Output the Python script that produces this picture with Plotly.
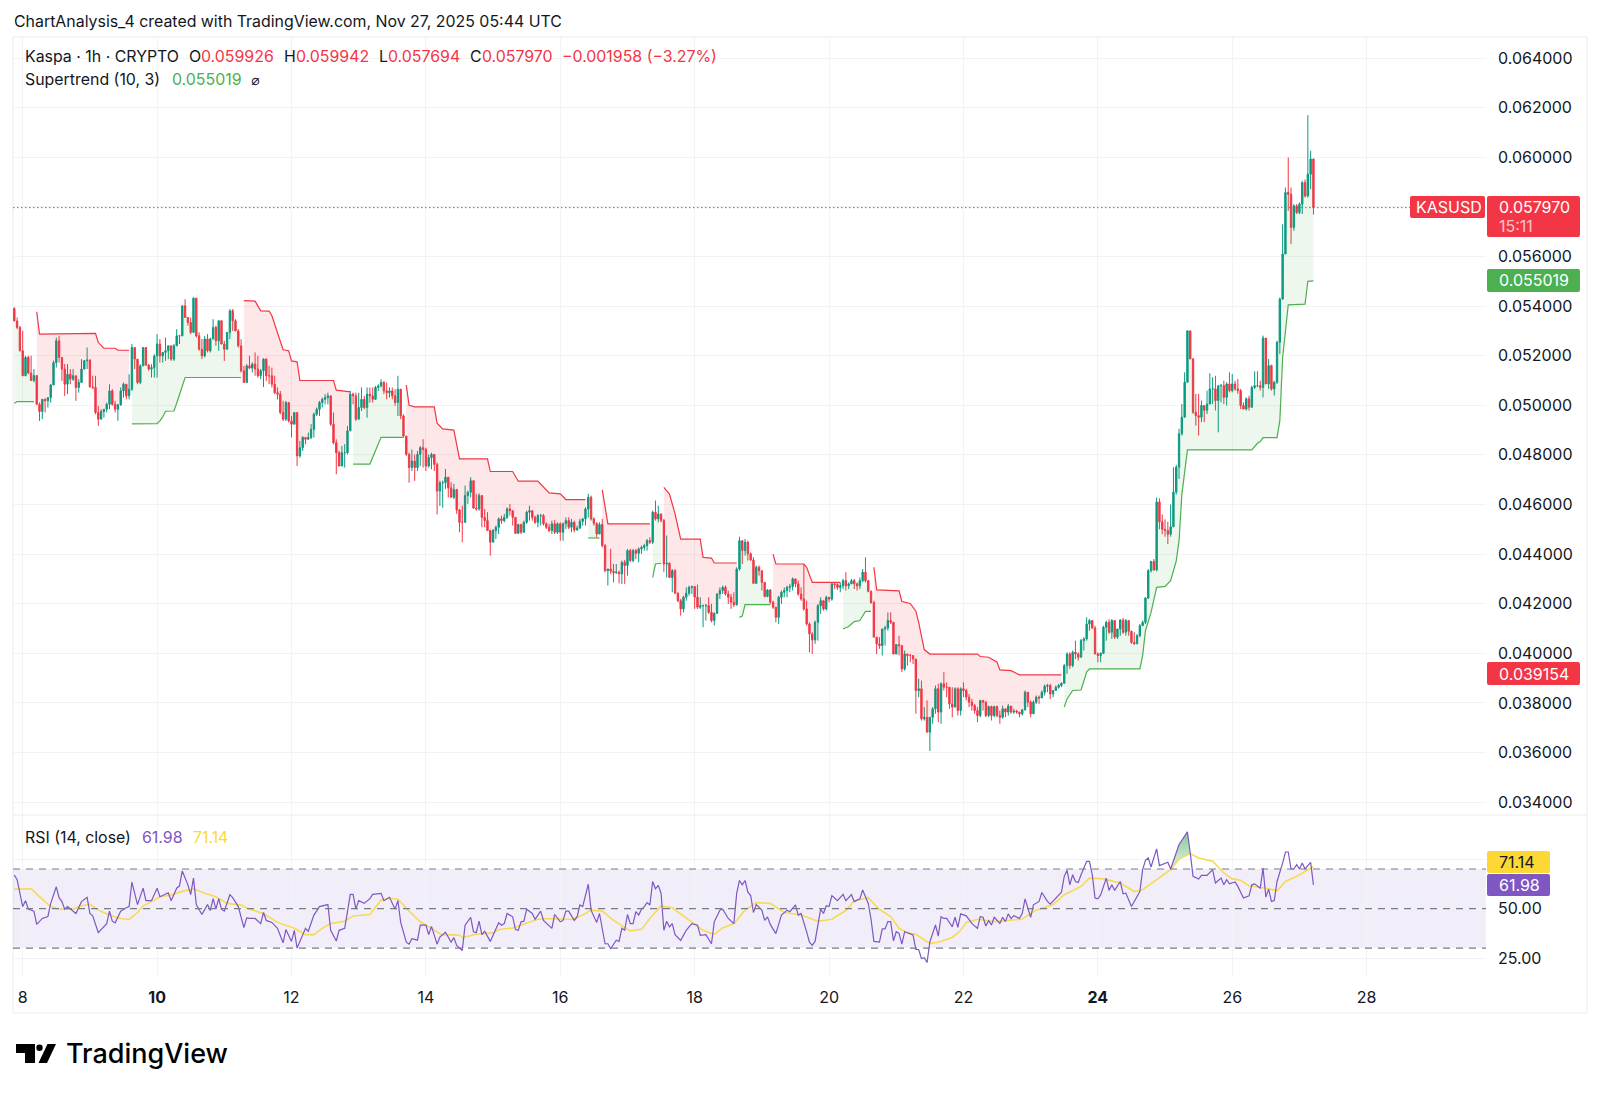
import pandas as pd
import plotly.graph_objects as go

# hourly candles, prices in units of 0.00001 USD, one row per day
closes = [
    5340, 5314, 5220,
    5119, 5193, 5130, 5100, 5120, 5004, 4975, 5024, 5018, 5031, 5082, 5172, 5260, 5193, 5146, 5085, 5125, 5105, 5119, 5072, 5092, 5146, 5180, 5182,
    5074, 5072, 4971, 4944, 4975, 4984, 5004, 5058, 5004, 4984, 5002, 5058, 5085, 5038, 5065, 5233, 5186, 5092, 5159, 5233, 5162, 5146, 5152, 5199,
    5247, 5199, 5213, 5220, 5240, 5186, 5240, 5280, 5280, 5401, 5354, 5334, 5294, 5432, 5280, 5226, 5199, 5267, 5220, 5267, 5314, 5260, 5341, 5247,
    5226, 5294, 5381, 5341, 5300, 5240, 5139, 5092, 5159, 5150, 5166, 5146, 5119, 5139, 5186, 5119, 5119, 5085, 5051, 5045, 4971, 4944, 5011, 4937,
    4924, 4971, 4796, 4829, 4870, 4863, 4870, 4903, 4964, 4984, 5011, 5024, 5031, 5038, 4924, 4849, 4809, 4755, 4809, 4809, 4897, 5045, 5038, 4944,
    4991, 5024, 4991, 5045, 5038, 5024, 5072, 5078, 5092, 5058, 5051, 5058, 5038, 5011, 5065, 4957, 4876, 4802, 4749, 4775, 4749, 4802, 4829, 4822,
    4755, 4789, 4802, 4762, 4654, 4688, 4688, 4710, 4667, 4629, 4660, 4578, 4528, 4528, 4636, 4649, 4696, 4586, 4582, 4636, 4548, 4535, 4495, 4448,
    4495, 4508, 4542, 4535, 4548, 4582, 4575, 4548, 4484, 4519, 4488, 4528, 4569, 4575, 4548, 4528, 4555, 4555, 4522, 4508, 4495, 4522, 4488, 4522,
    4488, 4522, 4535, 4508, 4528, 4497, 4505, 4532, 4542, 4582, 4629, 4542, 4524, 4481, 4519, 4434, 4333, 4340, 4331, 4325, 4327, 4320, 4367, 4354,
    4414, 4374, 4414, 4403, 4421, 4427, 4434, 4454, 4448, 4569, 4542, 4562, 4535, 4360, 4363, 4306, 4333, 4242, 4212, 4179, 4226, 4242, 4266, 4269,
    4226, 4186, 4192, 4192, 4192, 4165, 4132, 4161, 4239, 4253, 4266, 4239, 4226, 4206, 4196, 4340, 4454, 4414, 4448, 4401, 4376, 4282, 4347, 4333,
    4286, 4229, 4255, 4206, 4186, 4145, 4226, 4246, 4253, 4266, 4269, 4300, 4280, 4239, 4219, 4179, 4118, 4078, 4054, 4125, 4192, 4212, 4179, 4226,
    4219, 4280, 4277, 4266, 4272, 4293, 4272, 4280, 4293, 4280, 4272, 4293, 4327, 4293, 4250, 4205, 4065, 4038, 4031, 4098, 4102, 4132, 4125, 3997,
    4035, 4031, 3937, 3997, 3991, 3991, 3977, 3850, 3857, 3736, 3742, 3682, 3742, 3776, 3857, 3763, 3877, 3863, 3863, 3796, 3783, 3857, 3769, 3857,
    3850, 3823, 3803, 3789, 3769, 3749, 3810, 3803, 3749, 3785, 3749, 3785, 3749, 3742, 3776, 3763, 3787, 3763, 3767, 3763, 3756, 3772, 3843, 3803,
    3756, 3803, 3823, 3820, 3843, 3867, 3870, 3836, 3850, 3863, 3870, 3879, 3950, 3997, 3950, 4004, 3997, 3984, 4051, 4058, 4118, 4132, 4102, 3997,
    3991, 4000, 4105, 4125, 4085, 4132, 4065, 4098, 4134, 4085, 4132, 4089, 4044, 4038, 4071, 4111, 4125, 4223, 4333, 4370, 4336, 4610, 4530, 4500,
    4495, 4480, 4510, 4650, 4750, 4885, 4952, 5093, 5300, 5187, 4972, 4958, 4952, 4999, 4980, 5005, 5066, 5066, 5019, 5079, 5079, 5032, 5086, 5059,
    5086, 5066, 5059, 4999, 4985, 5026, 4992, 5072, 5079, 5079, 5072, 5271, 5086, 5160, 5066, 5093, 5254, 5428, 5610, 5858, 5851, 5717, 5804, 5777,
    5811, 5898, 5844, 5932, 5993, 5797,
]
highs = [
    5395, 5354, 5320,
    5300, 5200, 5200, 5200, 5146, 5105, 5011, 5024, 5028, 5031, 5085, 5180, 5273, 5280, 5193, 5166, 5166, 5146, 5146, 5112, 5105, 5186, 5180, 5233,
    5186, 5119, 5119, 4998, 4984, 4984, 5011, 5085, 5065, 5018, 5004, 5072, 5092, 5085, 5125, 5247, 5233, 5186, 5166, 5233, 5233, 5166, 5166, 5206,
    5287, 5267, 5213, 5273, 5240, 5240, 5247, 5307, 5280, 5401, 5428, 5354, 5354, 5435, 5432, 5294, 5267, 5280, 5287, 5273, 5347, 5321, 5341, 5341,
    5260, 5294, 5388, 5388, 5347, 5307, 5267, 5159, 5166, 5200, 5173, 5213, 5200, 5146, 5190, 5190, 5159, 5152, 5119, 5072, 5058, 5018, 5018, 5011,
    4957, 4971, 4971, 4856, 4876, 4870, 4890, 4924, 4971, 4991, 5018, 5031, 5045, 5051, 5038, 4971, 4863, 4816, 4836, 4843, 4917, 5058, 5051, 5051,
    5051, 5072, 5038, 5072, 5072, 5072, 5078, 5085, 5105, 5098, 5092, 5072, 5072, 5065, 5119, 5065, 4964, 4876, 4809, 4822, 4802, 4816, 4836, 4863,
    4829, 4802, 4809, 4796, 4769, 4696, 4696, 4743, 4710, 4690, 4683, 4663, 4582, 4595, 4676, 4656, 4710, 4696, 4643, 4645, 4636, 4582, 4569, 4495,
    4501, 4515, 4548, 4555, 4562, 4589, 4602, 4575, 4548, 4522, 4522, 4535, 4575, 4595, 4569, 4555, 4562, 4562, 4562, 4528, 4522, 4535, 4538, 4528,
    4528, 4528, 4548, 4548, 4542, 4535, 4515, 4542, 4546, 4589, 4643, 4636, 4548, 4528, 4528, 4542, 4441, 4340, 4421, 4360, 4360, 4333, 4374, 4376,
    4421, 4421, 4421, 4421, 4427, 4434, 4441, 4461, 4468, 4575, 4616, 4595, 4562, 4542, 4475, 4367, 4340, 4340, 4246, 4219, 4232, 4266, 4273, 4273,
    4269, 4277, 4226, 4196, 4199, 4226, 4199, 4165, 4242, 4266, 4273, 4273, 4253, 4239, 4246, 4347, 4470, 4448, 4461, 4454, 4407, 4387, 4354, 4354,
    4327, 4286, 4259, 4259, 4212, 4186, 4232, 4253, 4266, 4273, 4280, 4306, 4300, 4293, 4266, 4360, 4212, 4125, 4085, 4132, 4199, 4226, 4212, 4232,
    4226, 4286, 4286, 4282, 4286, 4300, 4327, 4286, 4300, 4300, 4286, 4306, 4340, 4387, 4293, 4253, 4212, 4065, 4065, 4098, 4111, 4165, 4165, 4111,
    4038, 4071, 4018, 4011, 3997, 3997, 3991, 3977, 3897, 3890, 3783, 3810, 3742, 3783, 3870, 3877, 3883, 3924, 3883, 3863, 3863, 3863, 3863, 3863,
    3883, 3857, 3836, 3816, 3796, 3783, 3812, 3810, 3807, 3789, 3789, 3789, 3789, 3769, 3789, 3776, 3796, 3783, 3776, 3772, 3762, 3776, 3850, 3843,
    3810, 3810, 3830, 3830, 3850, 3874, 3877, 3877, 3850, 3870, 3877, 3883, 3957, 4004, 4004, 4011, 4051, 4004, 4058, 4065, 4145, 4138, 4125, 4111,
    4004, 4004, 4111, 4132, 4138, 4138, 4105, 4098, 4138, 4142, 4138, 4098, 4091, 4085, 4078, 4118, 4132, 4226, 4340, 4373, 4380, 4628, 4625, 4560,
    4540, 4530, 4600, 4750, 4760, 4905, 5005, 5133, 5303, 5300, 5190, 5046, 5046, 5019, 4985, 5059, 5129, 5113, 5119, 5079, 5086, 5099, 5093, 5133,
    5126, 5099, 5106, 5066, 5012, 5032, 5039, 5079, 5137, 5137, 5099, 5281, 5267, 5187, 5164, 5099, 5260, 5435, 5730, 5878, 5999, 5878, 5811, 5811,
    5818, 5905, 5911, 6170, 6026, 5994,
]
lows = [
    5340, 5307, 5217,
    5119, 5119, 5125, 5098, 5092, 5004, 4937, 4944, 4971, 4991, 5011, 5112, 5152, 5172, 5098, 5038, 5045, 5085, 5098, 5018, 5051, 5098, 5146, 5146,
    5072, 5065, 4964, 4917, 4944, 4950, 4971, 4984, 4998, 4971, 4937, 4998, 5031, 5024, 5024, 5058, 5146, 5085, 5085, 5159, 5159, 5139, 5112, 5112,
    5112, 5172, 5172, 5179, 5186, 5179, 5179, 5247, 5247, 5280, 5361, 5321, 5287, 5294, 5273, 5220, 5186, 5193, 5213, 5213, 5273, 5240, 5220, 5247,
    5179, 5226, 5267, 5300, 5300, 5233, 5132, 5092, 5092, 5146, 5132, 5119, 5112, 5105, 5074, 5098, 5085, 5072, 5045, 5024, 4964, 4937, 4937, 4930,
    4870, 4924, 4755, 4789, 4816, 4843, 4863, 4863, 4870, 4957, 4957, 4991, 5004, 5004, 4917, 4843, 4722, 4755, 4755, 4749, 4802, 4897, 5004, 4937,
    4944, 4977, 4984, 4950, 5011, 5011, 5038, 5058, 5072, 5045, 5024, 5031, 5024, 4998, 4957, 4944, 4870, 4796, 4688, 4735, 4695, 4735, 4755, 4749,
    4735, 4749, 4742, 4735, 4560, 4594, 4587, 4663, 4629, 4629, 4622, 4562, 4488, 4448, 4528, 4602, 4629, 4582, 4575, 4575, 4508, 4508, 4495, 4394,
    4448, 4461, 4481, 4522, 4528, 4542, 4555, 4515, 4481, 4481, 4481, 4508, 4522, 4535, 4535, 4522, 4508, 4515, 4515, 4501, 4488, 4481, 4481, 4481,
    4454, 4454, 4501, 4501, 4488, 4488, 4495, 4501, 4515, 4515, 4548, 4535, 4515, 4468, 4481, 4427, 4327, 4273, 4320, 4286, 4320, 4282, 4280, 4280,
    4313, 4367, 4367, 4380, 4367, 4401, 4414, 4414, 4441, 4441, 4535, 4528, 4528, 4327, 4306, 4306, 4246, 4239, 4206, 4152, 4165, 4212, 4232, 4239,
    4179, 4179, 4179, 4105, 4132, 4159, 4125, 4112, 4159, 4219, 4239, 4232, 4199, 4179, 4186, 4192, 4333, 4360, 4394, 4374, 4374, 4280, 4280, 4313,
    4253, 4226, 4226, 4199, 4179, 4125, 4118, 4199, 4226, 4226, 4246, 4253, 4266, 4232, 4212, 4172, 4112, 4004, 3998, 4038, 4051, 4159, 4172, 4172,
    4206, 4212, 4259, 4256, 4246, 4259, 4253, 4259, 4280, 4259, 4253, 4259, 4286, 4286, 4246, 4199, 4065, 3997, 4018, 3991, 4031, 4091, 4118, 3997,
    3997, 3991, 3924, 3930, 3950, 3964, 3957, 3756, 3823, 3729, 3729, 3682, 3606, 3716, 3756, 3722, 3716, 3850, 3823, 3776, 3742, 3783, 3749, 3749,
    3823, 3810, 3783, 3769, 3756, 3722, 3742, 3769, 3742, 3742, 3729, 3742, 3742, 3716, 3736, 3742, 3749, 3756, 3756, 3756, 3742, 3749, 3769, 3783,
    3742, 3756, 3796, 3796, 3823, 3830, 3843, 3816, 3823, 3850, 3857, 3863, 3883, 3917, 3937, 3944, 3977, 3971, 3991, 4011, 4051, 4091, 4098, 3997,
    3964, 3964, 3997, 4051, 4078, 4058, 4058, 4058, 4071, 4078, 4071, 4071, 4038, 4035, 4038, 4065, 4111, 4118, 4219, 4326, 4333, 4330, 4500, 4480,
    4470, 4440, 4470, 4590, 4640, 4703, 4878, 4952, 5093, 5187, 4965, 4918, 4878, 4932, 4932, 4965, 5005, 5005, 4979, 4891, 5012, 5005, 4999, 5052,
    5052, 5059, 5046, 4985, 4985, 4979, 4979, 5012, 5066, 5073, 5059, 5032, 5086, 5066, 5059, 5039, 5086, 5207, 5435, 5610, 5784, 5650, 5704, 5771,
    5771, 5771, 5838, 5838, 5871, 5769,
]
first_open = 5390

# supertrend (10, 3): one (candle numbers, values) pair for each stretch of the line
st_up = [
    ([0, 1, 7], [5007, 5015, 5015]),
    ([42, 51, 52, 53, 54, 57, 58, 59, 61, 81], [4925, 4926, 4937, 4953, 4976, 4977, 5008, 5045, 5112, 5112]),
    ([121, 127, 131, 139], [4763, 4763, 4871, 4871]),
    ([205, 209], [4465, 4465]),
    ([228, 229, 231], [4306, 4360, 4363]),
    ([259, 260, 261, 270], [4145, 4150, 4196, 4196]),
    ([296, 298, 300, 302, 304, 306], [4098, 4108, 4128, 4132, 4169, 4169]),
    ([375, 376, 378, 381, 383, 384, 402, 403, 404, 406, 408, 411, 413, 415, 416, 417, 419, 442, 444, 445, 446, 451, 452, 453, 455, 461, 462, 464],
     [3783, 3816, 3850, 3852, 3924, 3937, 3937, 3991, 4091, 4165, 4266, 4270, 4293, 4373, 4454, 4640, 4820, 4820, 4847, 4854, 4870, 4870, 4938, 5193, 5405, 5408, 5500, 5502]),
]
st_down = [
    ([8, 9, 29, 30, 32, 36, 37, 41], [5377, 5287, 5290, 5253, 5230, 5230, 5222, 5222]),
    ([82, 86, 88, 91, 92, 96, 98, 99, 101, 102, 114, 115, 120],
     [5422, 5420, 5381, 5380, 5361, 5224, 5220, 5179, 5175, 5100, 5100, 5061, 5054]),
    ([140, 141, 143, 150, 151, 153, 157, 159, 169, 170, 178, 180, 187, 191, 195, 197, 204],
     [5081, 5000, 4994, 4994, 4928, 4905, 4900, 4784, 4784, 4733, 4733, 4694, 4694, 4647, 4643, 4620, 4620]),
    ([210, 212, 227], [4659, 4522, 4522]),
    ([232, 234, 236, 238, 245, 246, 249, 250, 258], [4669, 4642, 4562, 4460, 4460, 4387, 4384, 4364, 4364]),
    ([271, 272, 282, 283, 285, 295], [4400, 4360, 4360, 4347, 4286, 4286]),
    ([307, 308, 316, 317, 320, 322, 323, 325, 327, 344, 345, 348, 351, 352, 356, 359, 374],
     [4347, 4256, 4252, 4209, 4201, 4170, 4125, 4015, 3997, 3997, 3987, 3984, 3964, 3933, 3930, 3913, 3913]),
]

# RSI turning points
rsi_idx = [
    0, 1, 3, 4, 5, 7, 8, 10, 12, 13, 15, 16, 17, 18, 19, 22, 24, 26, 27, 28, 30, 32, 33, 34, 35, 36, 38, 40, 41, 42,
    44, 46, 47, 49, 51, 52, 55, 56, 58, 59, 60, 62, 63, 64, 65, 67, 69, 70, 71, 72, 73, 74, 75, 77, 78, 80, 82, 83, 84, 86,
    88, 89, 90, 92, 94, 96, 97, 99, 100, 101, 103, 104, 105, 107, 109, 112, 113, 115, 116, 118, 119, 120, 121, 122, 123, 125, 127, 128, 131, 132,
    134, 135, 136, 137, 138, 140, 141, 142, 144, 145, 147, 148, 149, 151, 152, 154, 156, 157, 158, 160, 161, 163, 164, 165, 166, 167, 168, 170, 173, 174,
    175, 176, 178, 179, 180, 181, 182, 183, 185, 186, 188, 189, 192, 193, 195, 196, 197, 198, 200, 201, 202, 203, 205, 206, 208, 209, 211, 212, 213, 215,
    216, 217, 218, 219, 220, 221, 222, 223, 224, 225, 226, 227, 228, 229, 230, 231, 232, 233, 234, 235, 236, 238, 240, 241, 242, 244, 245, 247, 249, 250,
    252, 253, 255, 257, 258, 259, 260, 261, 262, 263, 264, 265, 267, 268, 269, 270, 272, 274, 276, 277, 279, 280, 281, 283, 284, 285, 286, 288, 289, 290,
    291, 292, 294, 296, 297, 299, 300, 302, 303, 305, 306, 307, 309, 310, 311, 312, 313, 314, 315, 316, 317, 318, 321, 322, 323, 324, 325, 326, 327, 329,
    330, 331, 332, 333, 335, 336, 337, 338, 340, 342, 344, 345, 346, 347, 348, 349, 350, 352, 353, 354, 355, 356, 357, 359, 360, 361, 362, 363, 364, 366,
    367, 369, 370, 372, 374, 375, 376, 377, 378, 379, 380, 381, 383, 384, 385, 386, 387, 388, 390, 391, 392, 393, 395, 396, 397, 399, 402, 403, 404, 405,
    406, 408, 409, 412, 413, 416, 419, 420, 421, 423, 424, 426, 428, 429, 431, 432, 433, 434, 436, 437, 439, 441, 442, 443, 445, 446, 447, 448, 449, 450,
    451, 453, 454, 455, 456, 457, 458, 459, 460, 461, 463, 464,
]
rsi_val = [
    67, 64.6, 51, 54, 49.7, 48.7, 42, 45, 46, 52.6, 61, 55.5, 53.5, 49.7, 51, 47.5, 53.5, 55.7, 47.5, 46.3, 37.8, 41, 42.4, 48.7, 43.6, 42.8, 48.7, 50.4, 51, 63.4,
    52, 60.3, 54, 54, 60.3, 56, 58, 54, 60.3, 61.5, 69, 62, 57, 65.4, 52, 47, 52, 49, 55, 49.7, 55, 49.7, 48.7, 57, 55.5, 51, 40.4, 45.3, 45, 45,
    42.4, 48, 44, 43, 40, 32.7, 39.4, 33.4, 39, 30, 37.3, 40, 38.5, 46.7, 51, 52, 39, 33.6, 39, 40, 48.4, 57.2, 57.2, 49.7, 54, 52.6, 55, 57.2, 57.7, 54,
    55.7, 52.6, 49.7, 54, 43, 33, 32, 34.8, 34, 41.6, 41.6, 36.8, 41, 32, 35.6, 38, 33, 35.3, 31.4, 28.8, 41.6, 45.5, 38.2, 37.8, 43.6, 36.8, 38.5, 33.4, 42.8, 41.6,
    42.4, 47.5, 45.8, 39.4, 39, 43.3, 43.6, 49.6, 47.5, 44.6, 48.7, 44, 40, 47, 43.3, 44, 48.7, 48.7, 44, 45.8, 51.8, 51, 62.3, 49.2, 43, 47.5, 32.2, 32.2, 29.7, 34,
    33.4, 40, 39, 47, 42.4, 42.4, 48.4, 46.7, 49.7, 51, 53, 51.8, 63.7, 60, 61.7, 57.7, 39, 43.6, 40.7, 42.4, 36.8, 33.9, 39, 40.7, 42.4, 41.6, 36.5, 36.8, 32.2, 43.3,
    49.2, 49.7, 45, 42.4, 57.7, 64.2, 62, 64.2, 58.3, 56.6, 48, 52, 49.2, 44, 45.8, 42, 37.3, 46.7, 49.2, 48.4, 51.8, 46.7, 47.5, 38.2, 33, 31.4, 33.4, 49.7, 47.5, 51.4,
    51, 56.6, 54, 57.2, 54, 57, 53.5, 54.9, 59.4, 52.6, 44.6, 33.4, 33, 39.7, 39.7, 43.4, 43.4, 33.7, 38.3, 37.5, 32, 38.3, 36.6, 29.3, 29.3, 24.7, 25.2, 22.7, 33.2, 41.7,
    36.1, 45.9, 45, 45, 40.8, 45.6, 40.5, 47.3, 46.3, 42.5, 40, 45.9, 45.6, 41.2, 43.9, 41.7, 45.6, 42.5, 45.6, 43.4, 47.3, 45, 46.4, 45, 47.6, 54.9, 50.2, 45.6, 51.9, 53.6,
    58.1, 53.6, 52.2, 55.3, 58.3, 66.3, 69.3, 62, 67.1, 63.7, 63.2, 67.1, 73.9, 73.9, 67.1, 55.3, 54.9, 56.9, 65.4, 59.2, 62, 59.2, 63.7, 57.5, 57.8, 51, 58.6, 69.7, 74.4, 75.6,
    71, 80.2, 71.7, 73.4, 70, 82.4, 88.8, 78.1, 66.3, 64.9, 66.8, 66.8, 69.7, 62.9, 65.4, 62, 64.6, 62.5, 63.4, 61.2, 55.3, 56.4, 62, 62.5, 60.3, 70.5, 55.8, 59.8, 53.6, 54,
    63.7, 73, 78.6, 78.6, 70, 70, 72.2, 70, 73, 70, 73.4, 61.98,
]
rsi_ma_idx = [
    0, 3, 6, 9, 13, 16, 21, 24, 27, 30, 34, 38, 41, 44, 46, 49, 52, 56, 59, 64, 68, 72, 76, 81, 84, 89, 94, 100, 104, 107,
    110, 113, 118, 121, 127, 131, 134, 137, 141, 145, 149, 153, 156, 159, 160, 165, 171, 173, 178, 182, 187, 192, 199, 203, 206, 210, 214, 220, 224, 227,
    231, 235, 241, 246, 250, 253, 257, 261, 265, 270, 275, 281, 287, 292, 297, 300, 305, 309, 313, 316, 319, 322, 327, 330, 335, 338, 340, 344, 350, 354,
    360, 365, 371, 375, 381, 384, 389, 395, 400, 403, 408, 413, 416, 420, 423, 428, 432, 435, 438, 441, 447, 451, 454, 459, 463, 464,
]
rsi_ma_val = [
    59.8, 60, 60, 56, 51, 49.7, 49.7, 51.4, 52.3, 49.2, 46.7, 45, 44.5, 48, 51.4, 53.5, 56, 56.9, 58.3, 60, 57.7, 56, 52.6, 51.8, 49.7, 47.5, 43, 40, 36.8, 36.8,
    40, 42.4, 43.6, 46.2, 47, 54.3, 55.2, 54.7, 48.7, 43.3, 40, 36.5, 36.8, 36.5, 35.3, 37, 37.7, 39.4, 40.2, 42, 44.6, 45, 44.5, 46.7, 49.2, 48.7, 44, 38.7, 39.5, 45,
    51.3, 50.4, 44, 39, 37, 40.2, 42.4, 49.2, 53, 52.6, 48, 46.7, 43.6, 44.6, 49, 54, 55.5, 49.5, 46, 40, 37.8, 37, 32.4, 33, 35.4, 39, 43, 44.6, 43.4, 43.9,
    44.7, 49.3, 51.9, 57, 61.2, 65.4, 65, 62.9, 58.6, 59.5, 64.6, 69.7, 75, 77.8, 75.6, 73.9, 68, 65, 64.3, 61.5, 60.3, 59, 63.7, 67, 70.5, 71.14,
]

price_ticks = [0.034, 0.036, 0.038, 0.040, 0.042, 0.044, 0.046, 0.048, 0.050, 0.052, 0.054, 0.056, 0.058, 0.060, 0.062, 0.064]
rsi_ticks = [25, 50, 75]
rsi_tick_text = ["25.00", "50.00", ""]
day_ticks = ["2025-11-08", "2025-11-10", "2025-11-12", "2025-11-14", "2025-11-16", "2025-11-18", "2025-11-20", "2025-11-22", "2025-11-24", "2025-11-26", "2025-11-28"]
day_text = ["8", "<b>10</b>", "12", "14", "16", "18", "20", "22", "<b>24</b>", "26", "28"]
last_close = 0.05797

assert len(closes) == len(highs) == len(lows) == 465
assert len(rsi_idx) == len(rsi_val) and len(rsi_ma_idx) == len(rsi_ma_val)

UP = "#089981"
DOWN = "#F23645"
ST_UP = "#4CAF50"
PURPLE = "#7E57C2"
YELLOW = "#FDD835"
GRID = "#F2F3F4"
FRAME = "#EAEBEC"
INK = "#131722"
FONT = "Inter"
W, H = 1600, 1094


def px(x):
    return x / W


def py(y):
    return 1 - y / H


times = pd.date_range("2025-11-07 21:00", periods=len(closes), freq="h")
opens = [first_open] + closes[:-1]
o = [v * 1e-5 for v in opens]
c = [v * 1e-5 for v in closes]
h = [max(a, b, v * 1e-5) for a, b, v in zip(o, c, highs)]
l = [min(a, b, v * 1e-5) for a, b, v in zip(o, c, lows)]
mid = [(a + b) / 2 for a, b in zip(o, c)]

fig = go.Figure()

# supertrend line plus its fill against the candle bodies
for segments, line_col, fill_col in [(st_up, ST_UP, "rgba(76,175,80,0.10)"), (st_down, DOWN, "rgba(242,54,69,0.12)")]:
    for idx, vals in segments:
        span = range(idx[0], idx[-1] + 1)
        fig.add_trace(go.Scatter(x=[times[i] for i in span], y=[mid[i] for i in span], mode="lines",
                                 line=dict(width=0, color="rgba(0,0,0,0)"), xaxis="x", yaxis="y", hoverinfo="skip"))
        fig.add_trace(go.Scatter(x=[times[i] for i in idx], y=[v * 1e-5 for v in vals], mode="lines",
                                 line=dict(width=1.2, color=line_col), fill="tonexty", fillcolor=fill_col,
                                 xaxis="x", yaxis="y", hoverinfo="skip"))

fig.add_trace(go.Candlestick(
    x=times, open=o, high=h, low=l, close=c, whiskerwidth=0,
    increasing=dict(line=dict(color=UP, width=1), fillcolor=UP),
    decreasing=dict(line=dict(color=DOWN, width=1), fillcolor=DOWN),
    xaxis="x", yaxis="y", hoverinfo="skip",
))

# green wedge where RSI runs above its average
ob_from, ob_to = 413, 421
ma_pts = [(i, v) for i, v in zip(rsi_ma_idx, rsi_ma_val) if ob_from <= i <= ob_to]
rsi_pts = [(i, v) for i, v in zip(rsi_idx, rsi_val) if ob_from <= i <= ob_to]
fig.add_trace(go.Scatter(x=[times[i] for i, _ in ma_pts], y=[v for _, v in ma_pts], mode="lines",
                         line=dict(width=0, color="rgba(0,0,0,0)"), xaxis="x2", yaxis="y2", hoverinfo="skip"))
fig.add_trace(go.Scatter(x=[times[i] for i, _ in rsi_pts], y=[v for _, v in rsi_pts], mode="lines",
                         line=dict(width=0, color="rgba(0,0,0,0)"), fill="tonexty",
                         fillgradient=dict(type="vertical", colorscale=[[0, "rgba(76,175,80,0.05)"], [1, "rgba(60,170,100,0.65)"]]),
                         xaxis="x2", yaxis="y2", hoverinfo="skip"))
fig.add_trace(go.Scatter(x=[times[i] for i in rsi_ma_idx], y=rsi_ma_val, mode="lines",
                         line=dict(width=1.6, color="#F6DA55"), xaxis="x2", yaxis="y2", hoverinfo="skip"))
fig.add_trace(go.Scatter(x=[times[i] for i in rsi_idx], y=rsi_val, mode="lines",
                         line=dict(width=1.2, color=PURPLE), xaxis="x2", yaxis="y2", hoverinfo="skip"))


def tag(x0, x1, y0, y1, color, r=2):
    path = (f"M{px(x0 + r)},{py(y0)} L{px(x1 - r)},{py(y0)} Q{px(x1)},{py(y0)} {px(x1)},{py(y0 + r)} "
            f"L{px(x1)},{py(y1 - r)} Q{px(x1)},{py(y1)} {px(x1 - r)},{py(y1)} L{px(x0 + r)},{py(y1)} "
            f"Q{px(x0)},{py(y1)} {px(x0)},{py(y1 - r)} L{px(x0)},{py(y0 + r)} Q{px(x0)},{py(y0)} {px(x0 + r)},{py(y0)} Z")
    return dict(type="path", xref="paper", yref="paper", path=path, fillcolor=color, line=dict(width=0), layer="above")


def frame_line(x0, y0, x1, y1):
    return dict(type="line", xref="paper", yref="paper", x0=px(x0), y0=py(y0), x1=px(x1), y1=py(y1),
                line=dict(color=FRAME, width=1), layer="below")


def logo_poly(points):
    d = "M" + " L".join(f"{px(x)},{py(y)}" for x, y in points) + " Z"
    return dict(type="path", xref="paper", yref="paper", path=d, fillcolor="#000000", line=dict(width=0))


shapes = [
    frame_line(13, 37, 1587, 37), frame_line(13, 1013, 1587, 1013),
    frame_line(13, 37, 13, 1013), frame_line(1587, 37, 1587, 1013),
    frame_line(13, 815, 1587, 815),
    # RSI band and its three levels
    dict(type="rect", xref="x2 domain", yref="y2", x0=0, x1=1, y0=30, y1=70,
         fillcolor="rgba(126,87,194,0.1)", line=dict(width=0), layer="below"),
]
for level in [70, 50, 30]:
    shapes.append(dict(type="line", xref="x2 domain", yref="y2", x0=0, x1=1, y0=level, y1=level,
                       line=dict(color="#787B86", width=1.2, dash="7px,6px"), layer="above"))
shapes.append(dict(type="line", xref="paper", yref="y", x0=px(13), x1=px(1410), y0=last_close, y1=last_close,
                   line=dict(color=DOWN, width=1, dash="1.5px,2.5px"), layer="above"))
shapes += [
    tag(1410, 1485, 196, 218, DOWN), tag(1487, 1580, 196, 237, DOWN),
    tag(1487, 1580, 269, 292, ST_UP), tag(1487, 1580, 662, 685, DOWN),
    tag(1487, 1550, 851, 873, YELLOW), tag(1487, 1550, 874, 896, PURPLE),
    logo_poly([(16, 1044), (35, 1044), (35, 1063), (25, 1063), (25, 1053), (16, 1053)]),
    logo_poly([(38.5, 1063), (47.5, 1044), (56, 1044), (47, 1063)]),
    dict(type="circle", xref="paper", yref="paper", x0=px(36.3), x1=px(42.7), y0=py(1044.5), y1=py(1050.9),
         fillcolor="#000000", line=dict(width=0)),
]

annotations = []


def label(text, x, y, color=INK, size=15.9, family=FONT, weight=None):
    annotations.append(dict(text=text, x=px(x), y=py(y), xref="paper", yref="paper", xanchor="left", yanchor="middle",
                            showarrow=False, borderpad=0, font=dict(family=family, size=size, color=color, weight=weight)))


label("ChartAnalysis_4 created with TradingView.com, Nov 27, 2025 05:44 UTC", 13, 21)
row1 = [("Kaspa · 1h · CRYPTO", 24, INK), ("O", 188, INK), ("0.059926", 200, DOWN), ("H", 283, INK), ("0.059942", 295, DOWN),
        ("L", 378, INK), ("0.057694", 387, DOWN), ("C", 469, INK), ("0.057970", 481, DOWN), ("−0.001958 (−3.27%)", 561, DOWN)]
for text, x, color in row1:
    label(text, x, 57, color)
label("Supertrend (10, 3)", 24, 80)
label("0.055019", 171, 80, ST_UP)
label("⌀", 250, 80, INK, 14, "DejaVu Sans")
label("RSI (14, close)", 24, 837)
label("61.98", 141, 837, PURPLE)
label("71.14", 192, 837, YELLOW)

label("KASUSD", 1415, 207, "#FFFFFF", 16)
label("0.057970", 1498, 207, "#FFFFFF", 16)
label("15:11", 1498, 226, "#FBC4C9", 16)
label("0.055019", 1498, 280.5, "#FFFFFF", 16)
label("0.039154", 1498, 673.5, "#FFFFFF", 16)
label("71.14", 1498, 862, INK, 16)
label("61.98", 1498, 885, "#FFFFFF", 16)
label("TradingView", 65, 1053, "#000000", 27, FONT, 500)

x_range = ["2025-11-07 20:32", "2025-11-29 18:38"]
tick_font = dict(family=FONT, size=16, color=INK)

fig.update_layout(
    width=W, height=H, margin=dict(l=0, r=0, t=0, b=0),
    paper_bgcolor="#FFFFFF", plot_bgcolor="#FFFFFF",
    showlegend=False, hovermode=False, font=dict(family=FONT, color=INK),
    xaxis=dict(domain=[px(13), px(1486)], range=x_range, type="date", anchor="y", matches="x2",
               showticklabels=False, tickvals=day_ticks, showgrid=True, gridcolor=GRID, gridwidth=1,
               zeroline=False, showline=False, rangeslider=dict(visible=False)),
    yaxis=dict(domain=[py(815), py(37)], range=[0.03348, 0.06485], side="right", anchor="x",
               tickvals=price_ticks, ticktext=["" if v == round(last_close, 3) else f"{v:.6f}" for v in price_ticks],
               tickfont=tick_font, ticklabelstandoff=11, showgrid=True, gridcolor=GRID,
               zeroline=False, showline=False, ticks=""),
    xaxis2=dict(domain=[px(13), px(1486)], range=x_range, type="date", anchor="y2",
                tickvals=day_ticks, ticktext=day_text, tickfont=tick_font, ticklabelstandoff=10,
                showgrid=True, gridcolor=GRID, zeroline=False, showline=False, ticks=""),
    yaxis2=dict(domain=[py(976), py(815)], range=[15.9, 97.3], side="right", anchor="x2",
                tickvals=rsi_ticks, ticktext=rsi_tick_text, tickfont=tick_font, ticklabelstandoff=11,
                showgrid=True, gridcolor=GRID, zeroline=False, showline=False, ticks=""),
    shapes=shapes, annotations=annotations,
)

fig.write_html("out.html", config=dict(displayModeBar=False),
               post_script="document.body.style.margin='0';")
